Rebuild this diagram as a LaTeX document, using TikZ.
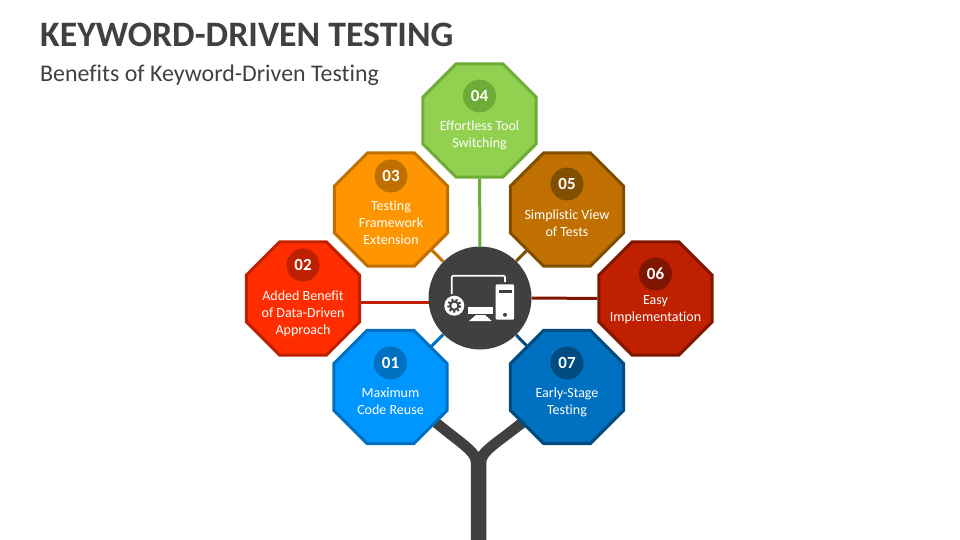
\documentclass[tikz,border=0pt]{standalone}
\usepackage{fontspec}
\setmainfont[Ligatures=NoCommon]{Carlito}
\usetikzlibrary{shapes.geometric,backgrounds}

\definecolor{inkdark}{HTML}{404040}
\definecolor{fillone}{HTML}{0096FF}
\definecolor{edgeone}{HTML}{0070C0}
\definecolor{filltwo}{HTML}{FF2D00}
\definecolor{edgetwo}{HTML}{BF2000}
\definecolor{fillthree}{HTML}{FF9500}
\definecolor{edgethree}{HTML}{BF7000}
\definecolor{fillfour}{HTML}{92D050}
\definecolor{edgefour}{HTML}{6EAC38}
\definecolor{fillfive}{HTML}{BF7000}
\definecolor{edgefive}{HTML}{805000}
\definecolor{fillsix}{HTML}{BF2000}
\definecolor{edgesix}{HTML}{801500}
\definecolor{fillseven}{HTML}{0070C0}
\definecolor{edgeseven}{HTML}{004B80}

\tikzset{
    octagon/.style={regular polygon, regular polygon sides=8, minimum size=122.6pt,
	inner sep=0pt, line width=3pt},
    badge/.style={circle, minimum size=33pt, inner sep=0pt, text=white,
	font=\fontsize{17}{17}\selectfont\bfseries},
    caption/.style={align=center, text=white, inner sep=0pt,
	font=\fontsize{14}{17}\selectfont},
    wire/.style={line width=3pt},
    limb/.style={draw=none, fill=inkdark}
}

\begin{document}
\begin{tikzpicture}[x=1pt, y=-1pt]
    \useasboundingbox (0, 0) rectangle (960, 540);
    \node [anchor=base west, inner sep=0pt, text=inkdark,
	font=\fontsize{35.8}{36}\selectfont\bfseries] (title) at (40, 46.5) {KEYWORD-DRIVEN TESTING};
    \node [anchor=base west, inner sep=0pt, text=inkdark,
	font=\fontsize{23.9}{24}\selectfont] (subtitle) at (40, 81.5) {Benefits of Keyword-Driven Testing};

    \node [octagon, draw=edgeone, fill=fillone] (oct1) at (390.5, 387) {};
    \node [octagon, draw=edgetwo, fill=filltwo] (oct2) at (303, 298.5) {};
    \node [octagon, draw=edgethree, fill=fillthree] (oct3) at (391, 209.5) {};
    \node [octagon, draw=edgefour, fill=fillfour] (oct4) at (479.5, 120.5) {};
    \node [octagon, draw=edgefive, fill=fillfive] (oct5) at (567, 209.5) {};
    \node [octagon, draw=edgesix, fill=fillsix] (oct6) at (655.5, 298.5) {};
    \node [octagon, draw=edgeseven, fill=fillseven] (oct7) at (567, 387) {};

    \node [badge, fill=edgeone] (badge1) at (390.5, 363) {01};
    \node [badge, fill=edgetwo] (badge2) at (303, 265) {02};
    \node [badge, fill=edgethree] (badge3) at (391, 176) {03};
    \node [badge, fill=edgefour] (badge4) at (479.5, 96) {04};
    \node [badge, fill=edgefive] (badge5) at (567, 184) {05};
    \node [badge, fill=edgesix] (badge6) at (655.5, 274) {06};
    \node [badge, fill=edgeseven] (badge7) at (567, 363) {07};

    \node [caption] (label1) at (390.5, 401) {Maximum\\Code Reuse};
    \node [caption] (label2) at (303, 313.8) {Added Benefit\\of Data-Driven\\Approach};
    \node [caption] (label3) at (391, 222.5) {Testing\\Framework\\Extension};
    \node [caption] (label4) at (479.5, 135) {Effortless Tool\\Switching};
    \node [caption] (label5) at (567, 223) {Simplistic View\\of Tests};
    \node [caption] (label6) at (655.5, 309.5) {Easy\\Implementation};
    \node [caption] (label7) at (567, 402) {Early-Stage\\Testing};

    \node [circle, fill=inkdark, minimum size=103pt, inner sep=0pt] (hub) at (480, 298) {};

    % computer on the hub
    \draw [white, line width=1.7pt, rounded corners=1.5pt]
	(451.7, 294) -- (451.7, 275.7) -- (505, 275.7) -- (505, 282);
    \fill [white, rounded corners=1pt] (495.7, 284.3) rectangle (514, 319.5);
    \fill [inkdark] (498.5, 289.8) rectangle (511.5, 292.8);
    \fill [inkdark] (505, 314.8) circle (2);
    \fill [white] (468.3, 307.3) rectangle (492.7, 314);
    \fill [white] (476, 315) -- (485, 315) -- (491.7, 321) -- (469, 321) -- cycle;
    \fill [white] (454.3, 305.7) circle (10);
    \draw [inkdark, line width=2pt, dash pattern=on 2pt off 2.2pt] (454.3, 305.7) circle (6);
    \draw [inkdark, line width=2pt] (454.3, 305.7) circle (4.2);

    \begin{scope}[on background layer]
	\coordinate (wire2) at (oct2.east |- 0, 302.7);
	\draw [wire, edgeone] (hub) -- (oct1);
	\draw [wire, edgetwo] (wire2) -- (hub.center |- wire2);
	\draw [wire, edgethree] (hub) -- (oct3);
	\draw [wire, edgefour] (hub) -- (oct4);
	\draw [wire, edgefive] (hub) -- (oct5);
	\draw [wire, edgesix] (hub) -- (oct6);
	\draw [wire, edgeseven] (hub) -- (oct7);
	% stem with its two branches, ends hidden under the octagons
	\coordinate (fork) at (478.5, 452);
	\coordinate (leftlow) at (425, 420);
	\coordinate (lefthigh) at (433, 413);
	\coordinate (rightlow) at (533, 420);
	\coordinate (righthigh) at (525, 413);
	\fill [limb] (470.8, 540) -- (470.8, 463) .. controls (470.8, 455) and (460, 449) .. (433, 427)
	    -- (leftlow) -- (lefthigh) -- (441, 420) .. controls (458, 434) and (472, 443) .. (fork)
	    .. controls (485, 443) and (500, 434) .. (517, 420)
	    -- (righthigh) -- (rightlow) -- (525.5, 427) .. controls (497, 449) and (486.3, 455) .. (486.3, 463)
	    -- (486.3, 540) -- cycle;
    \end{scope}
\end{tikzpicture}
\end{document}
